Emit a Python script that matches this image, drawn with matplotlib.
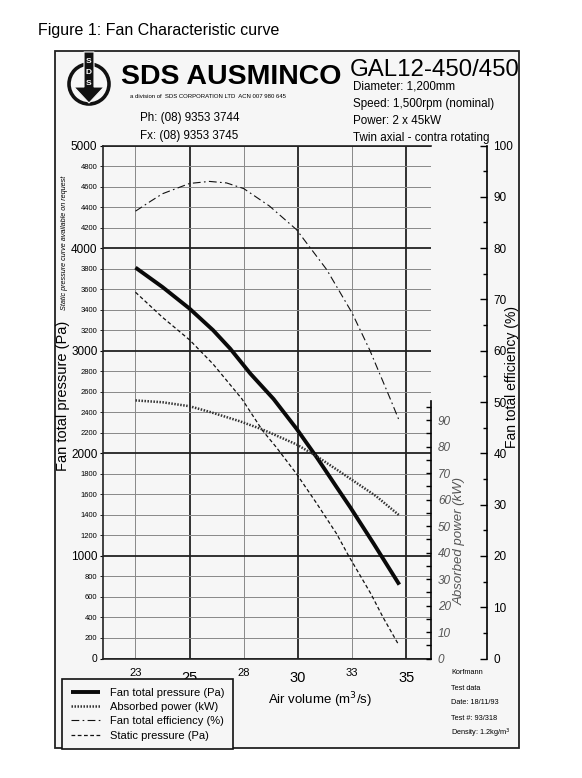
import numpy as np
import matplotlib
matplotlib.use("Agg")
import matplotlib.pyplot as plt
from matplotlib.patches import Circle, Polygon, Rectangle

plt.rcParams['font.family'] = ['Liberation Sans', 'DejaVu Sans']

# air volume (m3/s) vs readings, taken off the test sheet
vol_total = [23.0, 24.0, 25.0, 26.3, 27.25, 28.25, 29.1, 29.95, 31.05, 32.15, 32.9, 33.8, 34.75]
p_total = [3810, 3620, 3410, 3200, 3020, 2775, 2530, 2240, 1960, 1670, 1475, 1120, 720]

vol_static = [23.0, 24.0, 25.0, 26.3, 27.9, 28.7, 29.2, 29.95, 31.05, 32.15, 32.8, 33.7, 34.15, 34.7]
p_static = [3570, 3325, 3105, 2870, 2530, 2220, 2060, 1800, 1510, 1215, 1005, 630, 400, 145]

vol_eff = [23.0, 23.55, 24.0, 25.0, 26.1, 27.05, 28.0, 28.95, 29.95, 31.6, 33.0, 33.65, 34.4, 34.75]
eff = [87.2, 89.1, 90.6, 92.6, 93.0, 92.7, 91.6, 88.2, 83.6, 75.8, 67.4, 60.2, 50.8, 46.3]

vol_power = [23.0, 24.0, 25.0, 26.1, 27.8, 28.7, 29.95, 31.05, 32.7, 33.9, 34.75]
power = [97.4, 96.7, 95.2, 93.1, 89.5, 86.4, 80.8, 76.3, 68.8, 61.2, 54.0]

x_major = [25, 30, 35]
x_minor = [23, 28, 33]
# the sheet spaces its volume ticks evenly although the values are not
vol_steps = [21, 23, 25, 28, 30, 33, 35, 37]
step_pos = list(range(-1, 7))

labels = ['Fan total pressure (Pa)', 'Absorbed power (kW)',
          'Fan total efficiency (%)', 'Static pressure (Pa)']


def fwd(v):
    return np.interp(v, vol_steps, step_pos)


def inv(p):
    return np.interp(p, step_pos, vol_steps)


W, H = 582, 778
fig = plt.figure(figsize=(W / 100, H / 100), dpi=100)

bg = fig.add_axes([0, 0, 1, 1], zorder=-5)
bg.set_xlim(0, W)
bg.set_ylim(H, 0)
bg.axis('off')
bg.add_patch(Rectangle((55, 51), 464, 697, facecolor='#f6f6f6', edgecolor='#222', lw=1.3))

# logo
bg.add_patch(Circle((89, 84), 20, fill=False, lw=2.6, ec='#111'))
bg.add_patch(Polygon([(84, 52), (94, 52), (94, 87), (104, 87), (89, 103), (74, 87), (84, 87)],
                     closed=True, fc='#111', ec='#f6f6f6', lw=0.8))
for ch, yy in zip('SDS', (61, 72, 83)):
    bg.text(89, yy, ch, color='white', fontsize=6, fontweight='bold', ha='center', va='center')

bg.text(38, 30, 'Figure 1: Fan Characteristic curve', fontsize=11.5, va='center')
bg.text(121, 77, 'SDS AUSMINCO', fontsize=20.5, fontweight='bold', va='center')
bg.text(130, 96, 'a division of  SDS CORPORATION LTD  ACN 007 980 645', fontsize=4.3, va='center')
bg.text(140, 118, 'Ph: (08) 9353 3744', fontsize=8.4, va='center')
bg.text(140, 136, 'Fx: (08) 9353 3745', fontsize=8.4, va='center')
bg.text(350, 70, 'GAL12-450/450', fontsize=17.3, va='center')
head = ['Diameter: 1,200mm', 'Speed: 1,500rpm (nominal)', 'Power: 2 x 45kW',
        'Twin axial - contra rotating']
for s, yy in zip(head, (86, 104, 121, 138)):
    bg.text(353, yy, s, fontsize=8.4, va='center')

notes = ['Korfmann', 'Test data', 'Date: 18/11/93', 'Test #: 93/318', 'Density: 1.2kg/m$^3$']
for s, yy in zip(notes, (673, 688, 703, 718, 733)):
    bg.text(451, yy, s, fontsize=5.3, va='center')

bg.text(64, 243, 'Static pressure curve available on request', rotation=90,
        fontsize=5.2, style='italic', ha='center', va='center')

# main pressure axes
L, R, T, B = 103, 431, 145.5, 658.5
ax = fig.add_axes([L / W, 1 - B / H, (R - L) / W, (B - T) / H])
ax.set_facecolor('none')
ax.set_xscale('function', functions=(fwd, inv))
ax.set_xlim(21.8, 35.92)
ax.set_ylim(0, 5000)

ax.set_xticks(x_major, [str(v) for v in x_major])
ax.set_xticks(x_minor, [str(v) for v in x_minor], minor=True)
ax.tick_params(axis='x', which='both', length=0)
ax.tick_params(axis='x', which='major', labelsize=10.5, pad=9)
ax.tick_params(axis='x', which='minor', labelsize=8, pad=7)

y_major = list(range(0, 5001, 1000))
y_minor = [v for v in range(200, 5000, 200) if v % 1000]
ax.set_yticks(y_major, [str(v) for v in y_major])
ax.set_yticks(y_minor, [str(v) for v in y_minor], minor=True)
ax.tick_params(axis='y', which='major', labelsize=8.5, length=2, pad=2)
ax.tick_params(axis='y', which='minor', labelsize=5.5, length=2, pad=2)
ax.get_yticklabels()[0].set_fontsize(7.5)

ax.grid(which='major', color='#222', lw=1.3)
ax.grid(which='minor', color='#888', lw=0.7)
ax.set_axisbelow(True)
ax.spines['right'].set_visible(False)
for sp in ('left', 'top', 'bottom'):
    ax.spines[sp].set_color('#222')
    ax.spines[sp].set_linewidth(1.2)

ax.set_ylabel('Fan total pressure (Pa)', fontsize=10.5)
ax.yaxis.set_label_coords(-0.1, 0.511)
ax.set_xlabel('Air volume (m$^3$/s)', fontsize=9.5)
ax.xaxis.set_label_coords(0.662, -0.062)

l_total, = ax.plot(vol_total, p_total, color='#0a0a0a', lw=2.8, solid_capstyle='butt')
l_static, = ax.plot(vol_static, p_static, color='#111', lw=0.9, ls=(0, (3, 2)))

# absorbed power axis
ax_kw = ax.twinx()
ax_kw.set_ylim(0, 193.6)
for sp in ('left', 'top', 'bottom'):
    ax_kw.spines[sp].set_visible(False)
ax_kw.spines['right'].set_bounds(0, 97)
ax_kw.spines['right'].set_linewidth(1.2)
kw_major = list(range(0, 91, 10))
ax_kw.set_yticks(kw_major, [str(v) for v in kw_major], fontstyle='italic')
ax_kw.set_yticks(list(range(5, 96, 10)), minor=True)
ax_kw.tick_params(axis='y', which='both', direction='in', length=3.5, width=1,
                  labelsize=8.5, labelcolor='#555', pad=5)
ax_kw.set_ylabel('Absorbed power (kW)', fontsize=9.5, style='italic', color='#555')
ax_kw.yaxis.set_label_coords(1.070, 0.229)
l_power, = ax_kw.plot(vol_power, power, color='#333', lw=1.8, ls=(0, (0.6, 0.6)))

# efficiency axis
ax_eff = ax.twinx()
ax_eff.set_ylim(0, 100)
for sp in ('left', 'top', 'bottom'):
    ax_eff.spines[sp].set_visible(False)
ax_eff.spines['right'].set_position(('axes', (487 - L) / (R - L)))
ax_eff.spines['right'].set_bounds(0, 100)
ax_eff.spines['right'].set_linewidth(1.2)
eff_major = list(range(0, 101, 10))
ax_eff.set_yticks(eff_major, [str(v) for v in eff_major])
ax_eff.set_yticks(list(range(5, 100, 10)), minor=True)
ax_eff.tick_params(axis='y', which='major', direction='in', length=5, width=1,
                   labelsize=8.5, pad=4.5)
ax_eff.tick_params(axis='y', which='minor', direction='in', length=3, width=1)
ax_eff.set_ylabel('Fan total efficiency (%)', fontsize=10)
ax_eff.yaxis.set_label_coords(1.226, 0.549)
l_eff, = ax_eff.plot(vol_eff, eff, color='#111', lw=0.8, ls=(0, (7, 3, 1.5, 3)))

fig.legend([l_total, l_power, l_eff, l_static], labels, loc='upper left',
           bbox_to_anchor=(62 / W, 1 - 679 / H), frameon=True, fancybox=False,
           edgecolor='#111', facecolor='#f6f6f6', framealpha=1, fontsize=8,
           handlelength=2.6, handletextpad=0.9, labelspacing=0.38, borderpad=0.8,
           borderaxespad=0).get_frame().set_linewidth(1.2)

fig.savefig('out.png', dpi=100)
